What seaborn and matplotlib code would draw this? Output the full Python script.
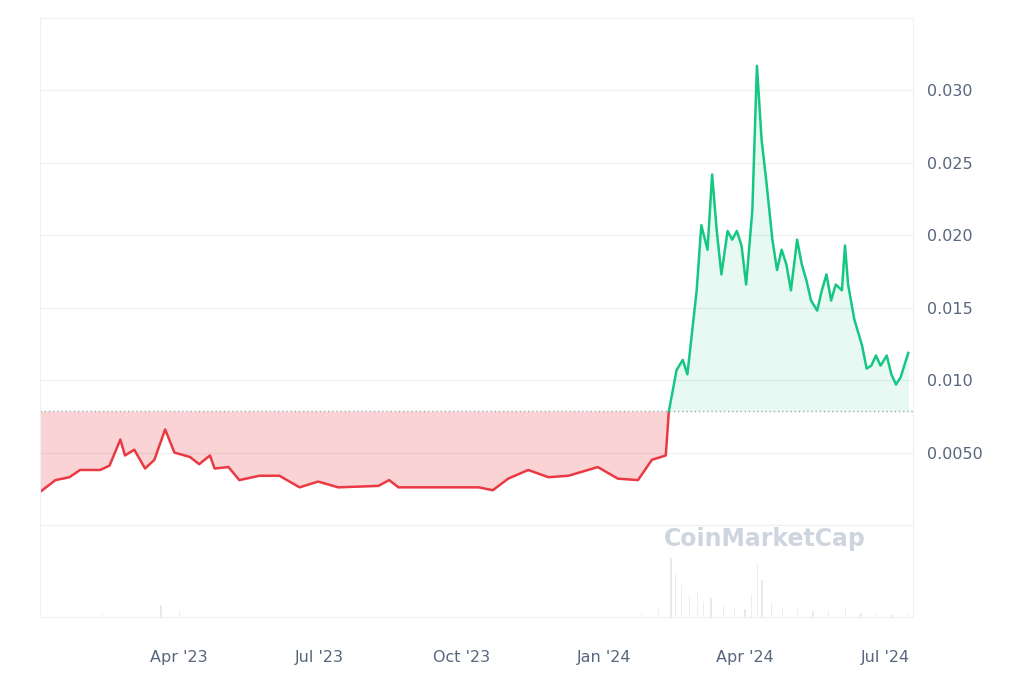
import matplotlib
matplotlib.use("Agg")
import matplotlib.pyplot as plt
import seaborn as sns
import pandas as pd

dates = ["2023-01-01","2023-01-11","2023-01-20","2023-01-27","2023-02-09","2023-02-15","2023-02-22",
 "2023-02-25","2023-03-03","2023-03-10","2023-03-16","2023-03-23","2023-03-29","2023-04-08","2023-04-14",
 "2023-04-21","2023-04-24","2023-05-03","2023-05-10","2023-05-23","2023-06-05","2023-06-18","2023-06-30",
 "2023-07-13","2023-08-08","2023-08-15","2023-08-21","2023-09-16","2023-10-12","2023-10-21","2023-10-31",
 "2023-11-13","2023-11-26","2023-12-09","2023-12-28","2024-01-10","2024-01-23","2024-02-01","2024-02-10",
 "2024-02-12","2024-02-17","2024-02-21","2024-02-24","2024-03-01","2024-03-04","2024-03-08","2024-03-11",
 "2024-03-14","2024-03-17","2024-03-21","2024-03-24","2024-03-27","2024-03-30","2024-04-02","2024-04-06",
 "2024-04-09","2024-04-12","2024-04-15","2024-04-19","2024-04-22","2024-04-25","2024-04-28","2024-05-01",
 "2024-05-05","2024-05-08","2024-05-11","2024-05-14","2024-05-18","2024-05-21","2024-05-24","2024-05-27",
 "2024-05-30","2024-06-03","2024-06-05","2024-06-07","2024-06-11","2024-06-16","2024-06-19","2024-06-22",
 "2024-06-25","2024-06-28","2024-07-02","2024-07-05","2024-07-08","2024-07-11","2024-07-16"]
prices = [0.00228,0.0031,0.0033,0.0038,0.0038,0.0041,0.0059,0.0048,0.0052,0.0039,0.0045,0.0066,0.0050,
 0.0047,0.0042,0.0048,0.0039,0.0040,0.0031,0.0034,0.0034,0.0026,0.0030,0.0026,0.0027,0.0031,0.0026,
 0.0026,0.0026,0.0024,0.0032,0.0038,0.0033,0.0034,0.0040,0.0032,0.0031,0.0045,0.0048,
 0.00786,0.0107,0.0114,0.0104,0.0162,0.0207,0.0190,0.0242,0.0203,0.0173,0.0203,0.0197,0.0203,0.0193,
 0.0166,0.0217,0.0317,0.0266,0.0238,0.0197,0.0176,0.0190,0.0180,0.0162,0.0197,0.0180,0.0169,0.0155,
 0.0148,0.0162,0.0173,0.0155,0.0166,0.0162,0.0193,0.0166,0.0142,0.0124,0.0108,0.0110,0.0117,0.0110,
 0.0117,0.0104,0.0097,0.0102,0.0119]
vol_dates = ["2023-01-10","2023-02-10","2023-03-20","2023-04-01","2023-06-01","2023-09-01","2023-12-01",
 "2024-01-25","2024-02-05","2024-02-13","2024-02-16","2024-02-20","2024-02-25","2024-03-01","2024-03-05",
 "2024-03-10","2024-03-18","2024-03-25","2024-04-01","2024-04-05","2024-04-09","2024-04-12","2024-04-18",
 "2024-04-25","2024-05-05","2024-05-15","2024-05-25","2024-06-05","2024-06-15","2024-06-25","2024-07-05","2024-07-15"]
volumes = [3,4,12,6,3,2,3,4,8,55,40,30,20,25,15,18,12,10,8,22,50,35,15,10,8,6,6,9,5,4,3,5]

baseline = 0.00786
df = pd.DataFrame({"date": pd.to_datetime(dates), "price": prices})
vdf = pd.DataFrame({"date": pd.to_datetime(vol_dates), "vol": volumes})
red, green = "#ea3943", "#16c784"
txt = "#58667e"

sns.set_style("white")
fig = plt.figure(figsize=(10.24, 6.83), dpi=100)
ax = fig.add_axes([40/1024, 1-617/683, 873/1024, 599/683])

ax2 = ax.twinx()
ax2.bar(vdf["date"], vdf["vol"], width=1.5, color="#dfe3ea")
ax2.set_ylim(0, max(volumes) * 10)
ax2.set_yticks([])
for s in ax2.spines.values():
    s.set_visible(False)
ax.set_zorder(ax2.get_zorder() + 1)
ax.patch.set_visible(False)

ix = df.index[df["price"] == baseline][0]
lo = df.iloc[:ix + 1]
hi = df.iloc[ix:]
ax.fill_between(lo["date"], lo["price"], baseline, color=red, alpha=0.22, lw=0)
ax.fill_between(hi["date"], hi["price"], baseline, color=green, alpha=0.1, lw=0)
sns.lineplot(data=lo, x="date", y="price", ax=ax, color=red, lw=1.8)
sns.lineplot(data=hi, x="date", y="price", ax=ax, color=green, lw=1.8)
ax.axhline(baseline, color="#a0a7b3", ls=(0, (1, 2)), lw=1)

ax.set_xlim(pd.Timestamp("2023-01-01"), pd.Timestamp("2024-07-19"))
ax.set_ylim(-0.00635, 0.035)
yt = [0.005, 0.010, 0.015, 0.020, 0.025, 0.030]
ax.set_yticks(yt)
ax.set_yticklabels(["0.0050", "0.010", "0.015", "0.020", "0.025", "0.030"])
for v in yt + [0]:
    ax.axhline(v, color="#eef0f3", lw=1, zorder=0)
ax.yaxis.tick_right()
ax.tick_params(axis="y", length=0, labelsize=11.5, labelcolor=txt, pad=10)
xt = pd.to_datetime(["2023-04-01", "2023-07-01", "2023-10-01", "2024-01-01", "2024-04-01", "2024-07-01"])
ax.set_xticks(xt)
ax.set_xticklabels(["Apr '23", "Jul '23", "Oct '23", "Jan '24", "Apr '24", "Jul '24"])
ax.tick_params(axis="x", length=0, labelsize=11.5, labelcolor=txt, pad=24)
ax.set_xlabel("")
ax.set_ylabel("")
for s in ax.spines.values():
    s.set_color("#eef0f3")
ax.text(0.83, 0.13, "CoinMarketCap", transform=ax.transAxes, fontsize=17,
        color="#cfd5de", ha="center", va="center", fontweight="bold")
fig.savefig("out.png", dpi=100)
